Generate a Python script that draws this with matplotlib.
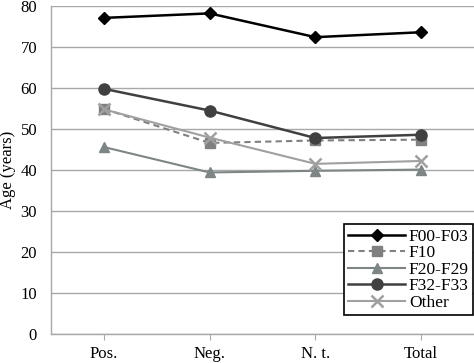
import matplotlib
matplotlib.use("Agg")
import matplotlib.pyplot as plt

categories = ["Pos.", "Neg.", "N. t.", "Total"]
f00_f03 = [77.1, 78.2, 72.4, 73.6]
f10 = [54.9, 46.6, 47.2, 47.4]
f20_f29 = [45.6, 39.4, 39.8, 40.1]
f32_f33 = [59.8, 54.5, 47.8, 48.6]
other = [54.8, 47.9, 41.5, 42.2]
y_ticks = [0, 10, 20, 30, 40, 50, 60, 70, 80]

plt.rcParams['font.family'] = ['Liberation Serif', 'DejaVu Serif']
fig = plt.figure(figsize=(4.74, 3.63), dpi=100)
ax = fig.add_axes([51/474, 1-334/363, (474-51)/474, (334-6)/363])
x = list(range(len(categories)))

ax.plot(x, f00_f03, color='black', marker='D', markersize=6, lw=1.8, label='F00-F03', zorder=5)
ax.plot(x, f10, color='#808080', marker='s', markersize=7, lw=1.5, ls=(0, (3, 2)), label='F10', zorder=3)
ax.plot(x, f20_f29, color='#7d8585', marker='^', markersize=7, lw=1.5, label='F20-F29', zorder=3)
ax.plot(x, f32_f33, color='#404040', marker='o', markersize=8, lw=1.8, label='F32-F33', zorder=4)
ax.plot(x, other, color='#a0a0a0', marker='x', markersize=8, mew=1.8, lw=1.5, label='Other', zorder=3)

ax.set_xlim(-0.5, 3.5)
ax.set_ylim(0, 80)
ax.set_yticks(y_ticks)
ax.set_xticks(x)
ax.set_xticklabels(categories)
ax.yaxis.grid(True, color='#a8a8a8', lw=1)
ax.set_axisbelow(True)
for s in ['top', 'right']:
    ax.spines[s].set_visible(False)
for s in ['left', 'bottom']:
    ax.spines[s].set_color('#a8a8a8')
    ax.spines[s].set_linewidth(1)
ax.tick_params(axis='y', length=0, labelsize=12, pad=10)
ax.tick_params(axis='x', direction='out', length=4, color='#a8a8a8', labelsize=12, pad=5)
ax.set_ylabel('Age (years)', fontsize=12, labelpad=3)

leg = ax.legend(loc='lower right', bbox_to_anchor=(0.998, 0.058), fontsize=12.5, frameon=True,
                fancybox=False, edgecolor='black', framealpha=1, handlelength=3.3,
                borderpad=0.25, labelspacing=0.02, handletextpad=0.2, borderaxespad=0.0)
leg.get_frame().set_linewidth(1.2)

fig.savefig('out.png', dpi=100)
